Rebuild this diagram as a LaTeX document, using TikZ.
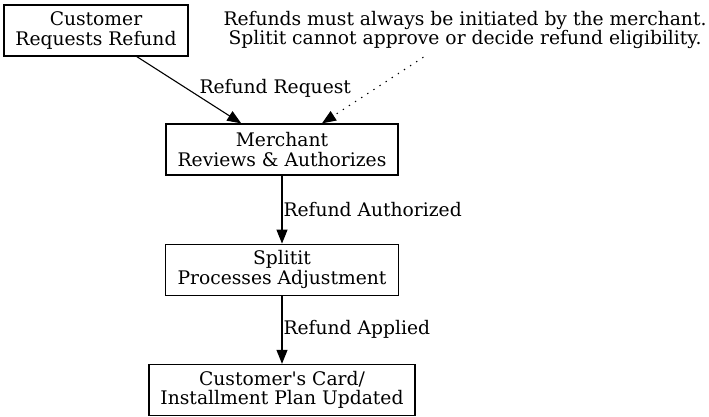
\documentclass[tikz,border=0pt]{standalone}
\usepackage{fontspec}
\newfontfamily\flowfont{DejaVu Serif}
\usetikzlibrary{arrows.meta,positioning}

\begin{document}
\begin{tikzpicture}[
  x=1pt, y=-1pt,
  font=\flowfont\fontsize{18.7}{19.6}\selectfont,
  step box/.style={draw, line width=1.2pt, minimum height=51pt, align=center, inner sep=2pt},
  arr/.style={-{Triangle[length=14pt, width=11pt]}, line width=1.1pt},
  lbl/.style={right, inner sep=1pt}
]
\useasboundingbox (0,0) rectangle (709,417);
\node[step box, minimum width=184pt] (customer) at (96,30.5) {Customer\\Requests Refund};
\node[step box, minimum width=232pt] (merchant) at (282,149.5) {Merchant\\Reviews \& Authorizes};
\node[step box, minimum width=233pt, below=68pt of merchant] (splitit) {Splitit\\Processes Adjustment};
\node[step box, minimum width=266pt, below=68pt of splitit] (card) {Customer's Card/\\Installment Plan Updated};
\node[align=center, minimum height=54pt, inner sep=0pt] (rule) at (465,30) {Refunds must always be initiated by the merchant.\\Splitit cannot approve or decide refund eligibility.};
\draw[arr] (customer) -- node[lbl, xshift=9pt, yshift=2pt] {Refund Request} (merchant);
\draw[arr, dash pattern=on 1.3pt off 6pt] (rule) -- (merchant);
\draw[arr] (merchant) -- node[lbl] {Refund Authorized} (splitit);
\draw[arr] (splitit) -- node[lbl] {Refund Applied} (card);
\end{tikzpicture}
\end{document}
